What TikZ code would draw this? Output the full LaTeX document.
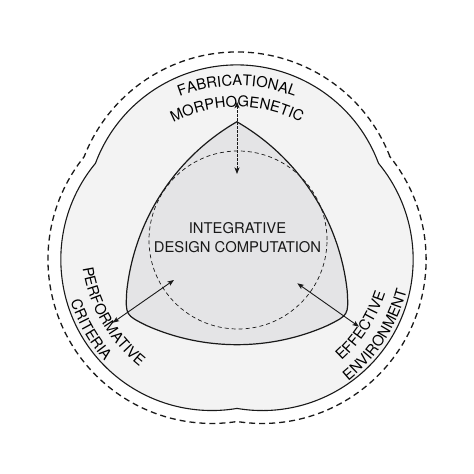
\documentclass[tikz,border=0pt]{standalone}
\usepackage{fontspec}
\setmainfont{TeX Gyre Heros}
\usetikzlibrary{arrows.meta,decorations.text}

\definecolor{ringgray}{RGB}{243,243,243}
\definecolor{coregray}{RGB}{228,228,230}
\definecolor{inkgray}{RGB}{25,25,25}
\newcommand{\lblfont}{\fontsize{14.8}{18.4}\selectfont}

\tikzset{
  hull/.style={draw=inkgray, line width=1.3pt, dash pattern=on 6pt off 4pt},
  ring/.style={draw=inkgray, line width=1.1pt, fill=ringgray},
  core/.style={draw=inkgray, line width=1.2pt, fill=coregray},
  coredash/.style={draw=inkgray, line width=0.7pt, dash pattern=on 4pt off 3pt},
  link/.style={draw=inkgray, line width=0.9pt,
    arrows={Stealth[length=6.5pt,width=5pt,inset=1.5pt]-Stealth[length=6.5pt,width=5pt,inset=1.5pt]}},
  bend text/.style={decorate, decoration={text along path, text align=center, text={|\lblfont|#1}}}
}

\begin{document}
\begin{tikzpicture}[x=1pt,y=1pt]
\useasboundingbox (0,0) rectangle (474,474);
\coordinate (c) at (237,229);
\coordinate (tri-t) at (237,352.3);
\coordinate (tri-l) at (125.5,159);
\coordinate (tri-r) at (348.5,159);

% outer lobes
\draw[hull] ([shift={(c)}]30:176.6)
  \foreach \a in {90,210,330} { arc[start angle=\a-68.8, end angle=\a+68.8, radius=164] } -- cycle;
\draw[ring] ([shift={(c)}]30:163.4)
  \foreach \a in {90,210,330} { arc[start angle=\a-69.6, end angle=\a+69.6, radius=151] } -- cycle;

% core
\draw[core] (tri-t) arc[start angle=120, end angle=174, radius=223]
  .. controls (tri-l) .. ([shift={(tri-t)}]246:223)
  arc[start angle=246, end angle=294, radius=223]
  .. controls (tri-r) .. ([shift={(tri-l)}]6:223)
  arc[start angle=6, end angle=60, radius=223] -- cycle;
\draw[coredash] (238,234) circle[radius=89];

\node[align=center, font=\lblfont, text=inkgray] (idc) at (237.5,236.5)
  {INTEGRATIVE\\DESIGN COMPUTATION};

% labels on the ring
\path[bend text=FABRICATIONAL] ([shift={(c)}]150:159) arc[start angle=150, end angle=30, radius=159];
\path[bend text=MORPHOGENETIC] ([shift={(c)}]150:138) arc[start angle=150, end angle=30, radius=138];
\path[bend text=PERFORMATIVE] ([shift={(c)}]180:156) arc[start angle=180, end angle=240, radius=156];
\path[bend text=CRITERIA] ([shift={(c)}]180:176) arc[start angle=180, end angle=240, radius=176];
\path[bend text=EFFECTIVE] ([shift={(c)}]297:156) arc[start angle=297, end angle=357, radius=156];
\path[bend text=ENVIRONMENT] ([shift={(c)}]297:176) arc[start angle=297, end angle=357, radius=176];

% arrows
\coordinate (fab-out) at (237,372.3);
\coordinate (fab-in) at (237,300);
\coordinate (perf-out) at (112.7,151.3);
\coordinate (perf-in) at (174,194);
\coordinate (env-in) at (297.3,190.7);
\coordinate (env-out) at (359,147.3);
\draw[link, dash pattern=on 2.5pt off 1.5pt] (fab-out) -- (fab-in);
\draw[link] (perf-out) -- (perf-in);
\draw[link] (env-in) -- (env-out);
\end{tikzpicture}
\end{document}
